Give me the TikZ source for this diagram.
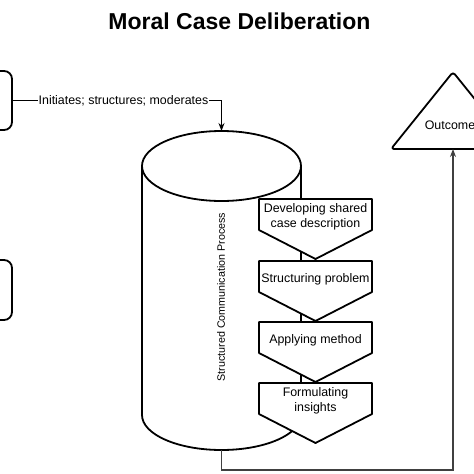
\documentclass[tikz,border=0pt]{standalone}
\usepackage{fontspec}
\setmainfont{Liberation Sans}
\usetikzlibrary{arrows.meta}

\tikzset{
  shapeline/.style={draw=black, line width=1.8pt, fill=white, line join=round},
  steptext/.style={align=center, font=\fontsize{12.4}{14.5}\selectfont},
  conn/.style={line width=1.1pt, -{Stealth[length=8pt,width=6pt]}},
}

\begin{document}
\begin{tikzpicture}[x=1pt,y=-1pt]
 \useasboundingbox (0,0) rectangle (474,474);
 \clip (0,0) rectangle (474,474);

 \node[font=\fontsize{23}{27}\selectfont\bfseries] (title) at (239.5,21) {Moral Case Deliberation};

 % actors on the left, cut by the frame
 \node[shapeline, rounded corners=8pt, minimum width=92pt, minimum height=59pt] (moderator) at (-34,100.5) {};
 \node[shapeline, rounded corners=8pt, minimum width=92pt, minimum height=60pt] (participants) at (-34,290) {};

 % cylinder
 \draw[shapeline] (142,166) -- (142,415) arc[start angle=180, end angle=0, x radius=79.5, y radius=35] -- (301,166);
 \draw[shapeline] (221.5,166) ellipse[x radius=79.5, y radius=35];
 \coordinate (cyltop) at (221.5,131);
 \coordinate (cylbot) at (221.5,450);
 \node[rotate=90, font=\fontsize{10.7}{12}\selectfont] (process) at (221,297) {Structured Communication Process};

 % steps
 \foreach \y/\txt [count=\i] in {199/{Developing shared\\case description}, 261/{Structuring problem}, 322/{Applying method}, 383/{Formulating\\insights}} {
   \draw[shapeline] (259,\y) -- (372,\y) -- (372,\y+31) -- (315.5,\y+60) -- (259,\y+31) -- cycle;
   \node[steptext] (step\i) at (315.5,\y+18) {\txt};
 }

 % outcome
 \draw[shapeline, rounded corners=3pt] (391,149) -- (453,72) -- (515,149) -- cycle;
 \node[font=\fontsize{12.4}{14}\selectfont] (outcome) at (450,125) {Outcome};
 \coordinate (outbase) at (453,149);

 \draw[conn] (moderator.east) -- (cyltop |- moderator.east)
   node[pos=0.53, fill=white, inner sep=1pt, font=\fontsize{12.4}{14}\selectfont] (initlabel) {Initiates; structures; moderates}
   -- (cyltop);
 \draw[conn, draw=black!75] (cylbot) -- ++(0,20) -| (outbase);
\end{tikzpicture}
\end{document}
